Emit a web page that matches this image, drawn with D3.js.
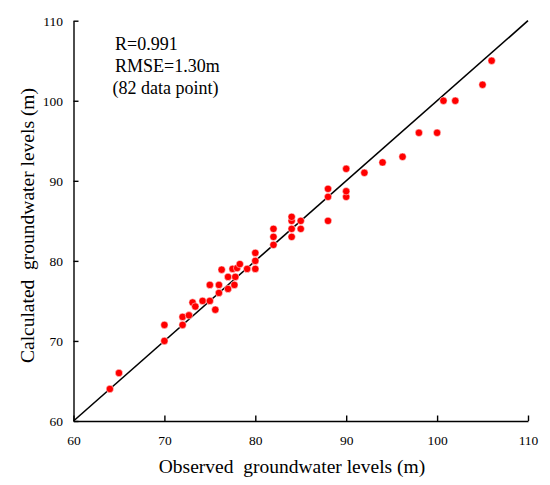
<!DOCTYPE html>
<html>
<head>
<meta charset="utf-8">
<script src="https://cdn.jsdelivr.net/npm/d3@7"></script>
<style>
  html, body { margin: 0; padding: 0; background: #fff; }
  svg { display: block; }
  text { font-family: "Liberation Serif", "Times New Roman", serif; fill: #000; white-space: pre; }
</style>
</head>
<body>
<div id="chart"></div>
<script>
const observed = [64, 65, 70, 70, 72, 72.7, 72, 73.1, 73.4, 74.2, 75, 75.6, 75, 76, 76, 76.3, 77, 77, 77.7, 77.8, 77.5, 78, 78.3, 79.1, 80, 80, 80, 82, 82, 82, 84, 84, 84, 84, 85, 85, 88, 88, 88, 90, 90, 90, 92, 94, 96.2, 98, 100, 100.7, 102, 105, 106];
const calculated = [64, 66, 72, 70, 73, 73.2, 72, 74.8, 74.3, 75, 75, 73.9, 77, 77, 76, 78.9, 78, 76.5, 77, 78, 79, 79.1, 79.6, 79, 79, 80, 81, 82, 83, 84, 83, 84, 85, 85.5, 84, 85, 85, 88, 89, 88, 88.7, 91.5, 91, 92.3, 93, 96, 96, 100, 100, 102, 105];
const xTicks = [60, 70, 80, 90, 100, 110];
const yTicks = [60, 70, 80, 90, 100, 110];
const statLines = ["R=0.991", "RMSE=1.30m", "(82 data point)"];
const xTitle = "Observed  groundwater levels (m)";
const yTitle = "Calculated  groundwater levels (m)";

const W = 550, H = 485;
const svg = d3.select("#chart").append("svg").attr("width", W).attr("height", H);

const x = d3.scaleLinear().domain([60, 110]).range([73.5, 528]);
const y = d3.scaleLinear().domain([60, 110]).range([421, 20.7]);

// x axis
const gx = svg.append("g").attr("transform", `translate(0,${y(60)})`)
  .call(d3.axisBottom(x).tickValues(xTicks).tickSizeInner(-5.5).tickSizeOuter(0).tickPadding(0));
gx.selectAll("text").attr("y", 24).attr("dy", 0).style("font-size", "13.5px")
  .style("font-family", "'Liberation Serif', 'Times New Roman', serif");
gx.selectAll("path, line").attr("stroke", "#000").attr("stroke-width", 1.4);

// y axis
const gy = svg.append("g").attr("transform", `translate(${x(60)},0)`)
  .call(d3.axisLeft(y).tickValues(yTicks).tickSizeInner(-5).tickSizeOuter(0).tickPadding(10.5));
gy.selectAll("text").attr("dy", "0.34em").style("font-size", "13.5px")
  .style("font-family", "'Liberation Serif', 'Times New Roman', serif");
gy.selectAll("path, line").attr("stroke", "#000").attr("stroke-width", 1.4);

// 1:1 line
svg.append("line")
  .attr("x1", x(60)).attr("y1", y(60)).attr("x2", x(110)).attr("y2", y(110))
  .attr("stroke", "#000").attr("stroke-width", 1.6);

// points
svg.append("g").selectAll("circle")
  .data(observed.map((o, i) => [o, calculated[i]]))
  .join("circle")
  .attr("cx", d => x(d[0])).attr("cy", d => y(d[1]))
  .attr("r", 3.7)
  .attr("fill", "#ff0000")
  .attr("stroke", "#fff").attr("stroke-width", 0.5);

// stats text
const statX = [115, 115, 112.5];
statLines.forEach((t, i) => {
  svg.append("text").attr("x", statX[i]).attr("y", 50 + i * 22)
    .style("font-size", "18px").text(t);
});

// axis titles
svg.append("text").attr("x", 292).attr("y", 473).attr("text-anchor", "middle")
  .attr("xml:space", "preserve")
  .style("font-size", "19.5px").text(xTitle);
svg.append("text").attr("transform", "translate(33.5,225.5) rotate(-90)")
  .attr("xml:space", "preserve")
  .attr("text-anchor", "middle").style("font-size", "19.5px").text(yTitle);
</script>
</body>
</html>
